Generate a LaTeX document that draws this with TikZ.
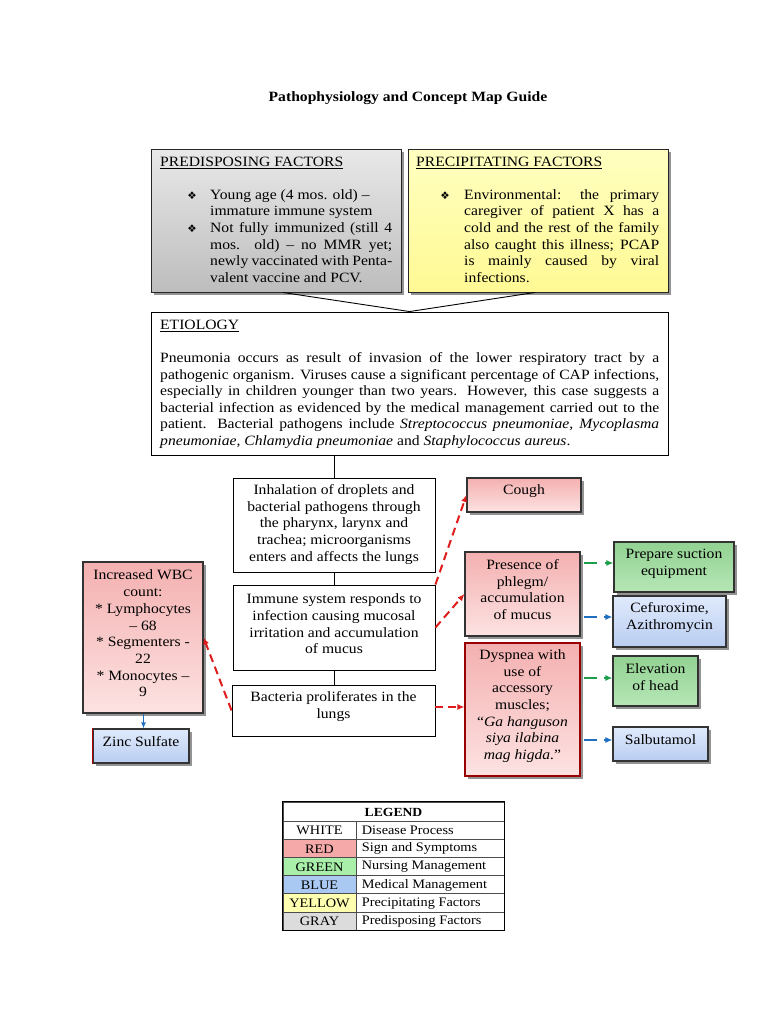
\documentclass[tikz,border=0pt]{standalone}
\usepackage{fontspec}
\setmainfont{Liberation Serif}[FakeStretch=1.1]
\newfontfamily\symfont{DejaVu Sans}
\usetikzlibrary{shadows,arrows.meta,calc}
\definecolor{grayA}{HTML}{E8E8E8}
\definecolor{grayB}{HTML}{BDBDBD}
\definecolor{yelA}{HTML}{FFFFC0}
\definecolor{yelB}{HTML}{FFF994}
\definecolor{redA}{HTML}{F4B0B0}
\definecolor{redB}{HTML}{FDE2E2}
\definecolor{grnA}{HTML}{92D292}
\definecolor{grnB}{HTML}{B6E6B6}
\definecolor{bluA}{HTML}{E0EAFC}
\definecolor{bluB}{HTML}{B9CDF1}
\definecolor{arrRed}{HTML}{E01B1B}
\definecolor{arrGrn}{HTML}{1E9E4A}
\definecolor{arrBlu}{HTML}{1F6FC0}
\definecolor{lgRed}{HTML}{F6A9A9}
\definecolor{lgGrn}{HTML}{A9EFA9}
\definecolor{lgBlu}{HTML}{A9C9F2}
\definecolor{lgYel}{HTML}{FFFFB0}
\definecolor{lgGry}{HTML}{DCDCDC}
\newcommand\bodyfont{\fontsize{14.2}{16.7}\selectfont}
\newcommand\mkbox[6]{%
  \pgfmathsetmacro\mkW{#5-#3}\pgfmathsetmacro\mkH{#6-#4}%
  \pgfmathsetmacro\mkX{(#3+#5)/2}\pgfmathsetmacro\mkY{(#4+#6)/2}%
  \node[#1, inner sep=0pt, minimum width=\mkW pt, minimum height=\mkH pt] (#2) at (\mkX,\mkY) {};}
% management arrow: dashed shaft + solid tip
\newcommand\mgarrow[3]{%
  \draw[draw=#1, line width=1.8pt, dash pattern=on 13pt off 8pt, shorten <=3pt, shorten >=9pt] (#2) -- (#3);
  \draw[draw=#1, line width=1.8pt, -{Latex[length=7pt,width=6pt]}] ($(#3)+(-8,0)$) -- (#3);}
\begin{document}
\begin{tikzpicture}[x=1pt,y=-1pt,
  shad/.style={drop shadow={shadow xshift=2.5pt, shadow yshift=-2.5pt, fill=black!60, opacity=0.7}},
  wbox/.style={draw=black, line width=0.9pt, fill=white},
  graybox/.style={shad, draw=black!85, line width=1pt, top color=grayA, bottom color=grayB},
  yelbox/.style={shad, draw=black!85, line width=1pt, top color=yelA, bottom color=yelB},
  redbox/.style={shad, draw=black!80, line width=1.1pt, top color=redA, bottom color=redB},
  grnbox/.style={shad, draw=black!80, line width=1.1pt, top color=grnA, bottom color=grnB},
  blubox/.style={shad, draw=black!80, line width=1.1pt, top color=bluA, bottom color=bluB},
  tx/.style={font=\bodyfont, align=center, inner sep=0pt},
  ln/.style={font=\bodyfont, anchor=base west, inner sep=0pt},
  bul/.style={font=\symfont\fontsize{10.5}{12}\selectfont, anchor=base, inner sep=0pt},
  conn/.style={draw=black, line width=0.9pt},
  reddash/.style={draw=arrRed, line width=2pt, dash pattern=on 8pt off 5pt, -{Latex[length=7pt,width=6pt]}},
  lgcell/.style={draw=black!70, line width=0.6pt},
  lgtx/.style={font=\fontsize{13}{15}\selectfont, inner sep=0pt}
]
\useasboundingbox (0,0) rectangle (768,1024);
\fill[white] (0,0) rectangle (768,1024);

% title
\node[font=\bfseries\fontsize{14.2}{16}\selectfont, anchor=base, inner sep=0pt] (title) at (408,101.5) {Pathophysiology and Concept Map Guide};

% top boxes
\mkbox{graybox}{pred}{151}{150}{401}{292}
\mkbox{yelbox}{prec}{408}{150}{668}{292}
\node[ln] (predH) at (160,166.5) {\underline{PREDISPOSING FACTORS}};
\node[bul] (predB1) at (192,199.5) {❖};
\node[ln] (pred1) at (210,199.5) {Young age (4 mos. old) –};
\node[ln] (pred2) at (210,216) {immature immune system};
\node[bul] (predB2) at (192,232.5) {❖};
\node[ln] (pred3) at (210,232.5) {\makebox[182pt][s]{Not fully immunized (still 4}};
\node[ln] (pred4) at (210,249) {\makebox[182pt][s]{mos. old) – no MMR yet;}};
\node[ln] (pred5) at (210,265.5) {\makebox[182pt][s]{newly vaccinated with Penta-}};
\node[ln] (pred6) at (210,282) {valent vaccine and PCV.};

\node[ln] (precH) at (416,166.5) {\underline{PRECIPITATING FACTORS}};
\node[bul] (precB1) at (445,199.5) {❖};
\node[ln] (prec1) at (464,199.5) {\makebox[195pt][s]{Environmental: the primary}};
\node[ln] (prec2) at (464,216) {\makebox[195pt][s]{caregiver of patient X has a}};
\node[ln] (prec3) at (464,232.5) {\makebox[195pt][s]{cold and the rest of the family}};
\node[ln] (prec4) at (464,249) {\makebox[195pt][s]{also caught this illness; PCAP}};
\node[ln] (prec5) at (464,265.5) {\makebox[195pt][s]{is mainly caused by viral}};
\node[ln] (prec6) at (464,282) {infections.};

% etiology
\mkbox{wbox}{etio}{151}{312}{668}{455}
\node[ln] (etioH) at (160,329.5) {\underline{ETIOLOGY}};
\node[ln] (etio1) at (160,362.5) {\makebox[499pt][s]{Pneumonia occurs as result of invasion of the lower respiratory tract by a}};
\node[ln] (etio2) at (160,379.1) {\makebox[499pt][s]{pathogenic organism. Viruses cause a significant percentage of CAP infections,}};
\node[ln] (etio3) at (160,395.7) {\makebox[499pt][s]{especially in children younger than two years. However, this case suggests a}};
\node[ln] (etio4) at (160,412.3) {\makebox[499pt][s]{bacterial infection as evidenced by the medical management carried out to the}};
\node[ln] (etio5) at (160,428.9) {\makebox[499pt][s]{patient. Bacterial pathogens include \textit{Streptococcus pneumoniae}, \textit{Mycoplasma}}};
\node[ln] (etio6) at (160,445.5) {\textit{pneumoniae}, \textit{Chlamydia pneumoniae} and \textit{Staphylococcus aureus}.};

% V connector
\coordinate (predC) at ($(pred.south west)!0.528!(pred.south east)$);
\coordinate (precC) at ($(prec.south west)!0.488!(prec.south east)$);
\draw[conn] (predC) -- (etio.north) -- (precC);

% disease process
\mkbox{wbox}{inhal}{233}{478}{435}{572}
\mkbox{wbox}{immune}{233}{585}{435}{670}
\mkbox{wbox}{bact}{232}{685}{435}{736}
\node[tx] (inhalT) at ($(inhal.center)+(0,-0.5)$) {Inhalation of droplets and\\bacterial pathogens through\\the pharynx, larynx and\\trachea; microorganisms\\enters and affects the lungs};
\node[tx] (immuneT) at ($(immune.center)+(0,-3.5)$) {Immune system responds to\\infection causing mucosal\\irritation and accumulation\\of mucus};
\node[tx] (bactT) at ($(bact.center)+(0,-4)$) {Bacteria proliferates in the\\lungs};
\draw[conn] (inhal.north |- etio.south) -- (inhal.north);
\draw[conn] (inhal.south) -- (immune.north);
\draw[conn] (immune.south) -- (immune.south |- bact.north);

% signs and symptoms
\mkbox{redbox}{cough}{467}{478}{581}{512}
\mkbox{redbox}{phlegm}{465}{552}{580}{636}
\mkbox{redbox,draw=red!60!black}{dysp}{465}{643}{580}{776}
\mkbox{redbox}{wbc}{83}{562}{203}{713}
\node[tx] (coughT) at ($(cough.center)+(0,-4)$) {Cough};
\node[tx] (phlegmT) at ($(phlegm.center)+(0,-4.5)$) {Presence of\\phlegm/\\accumulation\\of mucus};
\node[tx] (dyspT) at ($(dysp.center)+(0,-3.5)$) {Dyspnea with\\use of\\accessory\\muscles;\\“\textit{Ga hanguson}\\\textit{siya ilabina}\\\textit{mag higda.}”};
\node[tx] (wbcT) at ($(wbc.center)+(0,-4)$) {Increased WBC\\count:\\* Lymphocytes\\– 68\\* Segmenters -\\22\\* Monocytes –\\9};

% management
\mkbox{grnbox}{suction}{614}{542}{734}{592}
\mkbox{blubox}{cefu}{613}{596}{726}{647}
\mkbox{grnbox}{elev}{613}{656}{698}{706}
\mkbox{blubox}{salb}{613}{727}{708}{761}
\mkbox{blubox}{zinc}{93}{729}{189}{763}
\draw[red!70!black, line width=1.2pt] (zinc.north west) -- (zinc.south west);
\node[tx] (suctionT) at ($(suction.center)+(0,-3.5)$) {Prepare suction\\equipment};
\node[tx] (cefuT) at ($(cefu.center)+(0,-4)$) {Cefuroxime,\\Azithromycin};
\node[tx] (elevT) at ($(elev.center)+(0,-4)$) {Elevation\\of head};
\node[tx] (salbT) at ($(salb.center)+(0,-4)$) {Salbutamol};
\node[tx] (zincT) at ($(zinc.center)+(0,-4)$) {Zinc Sulfate};

% connectors
\draw[reddash] (immune.north east) -- (cough.west);
\draw[reddash] (immune.east) -- (phlegm.west);
\draw[reddash] ([yshift=3.5pt]bact.east) -- ([yshift=3.5pt]bact.east -| dysp.west);
\draw[reddash] (bact.west) -- (wbc.east);
\coordinate (aS1) at ([yshift=4pt]suction.west -| phlegm.east);
\coordinate (aS2) at ([yshift=4pt]suction.west);
\coordinate (aC1) at ([yshift=4.5pt]cefu.west -| phlegm.east);
\coordinate (aC2) at ([yshift=4.5pt]cefu.west);
\coordinate (aE1) at ([yshift=3pt]elev.west -| dysp.east);
\coordinate (aE2) at ([yshift=3pt]elev.west);
\coordinate (aB1) at ([yshift=4pt]salb.west -| dysp.east);
\coordinate (aB2) at ([yshift=4pt]salb.west);
\mgarrow{arrGrn}{aS1}{aS2}
\mgarrow{arrBlu}{aC1}{aC2}
\mgarrow{arrGrn}{aE1}{aE2}
\mgarrow{arrBlu}{aB1}{aB2}
\draw[draw=arrBlu, line width=1.8pt, -{Latex[length=6pt,width=5pt]}] ([xshift=0.5pt]wbc.south) -- ([xshift=0.5pt]wbc.south |- zinc.north);

% legend
\mkbox{lgcell}{lgHead}{283}{802}{504}{821}
\node[font=\bfseries\fontsize{12.4}{14}\selectfont, inner sep=0pt] (lgHeadT) at ($(lgHead.center)+(0,0.5)$) {LEGEND};
\foreach \i/\nm/\col/\desc in {0/WHITE/white/Disease Process,1/RED/lgRed/Sign and Symptoms,2/GREEN/lgGrn/Nursing Management,3/BLUE/lgBlu/Medical Management,4/YELLOW/lgYel/Precipitating Factors,5/GRAY/lgGry/Predisposing Factors}{
  \pgfmathsetmacro\ya{821+\i*18.17}\pgfmathsetmacro\yb{821+(\i+1)*18.17}
  \mkbox{lgcell,fill=\col}{lgL\i}{283}{\ya}{356}{\yb}
  \mkbox{lgcell,fill=white}{lgR\i}{356}{\ya}{504}{\yb}
  \node[lgtx] (lgLT\i) at ($(lgL\i.center)+(0,0.5)$) {\nm};
  \node[lgtx, anchor=west] (lgRT\i) at ($(lgR\i.west)+(6,0.5)$) {\desc};
}
\draw[black, line width=1pt] (lgHead.north west) rectangle (lgR5.south east);
\end{tikzpicture}
\end{document}
